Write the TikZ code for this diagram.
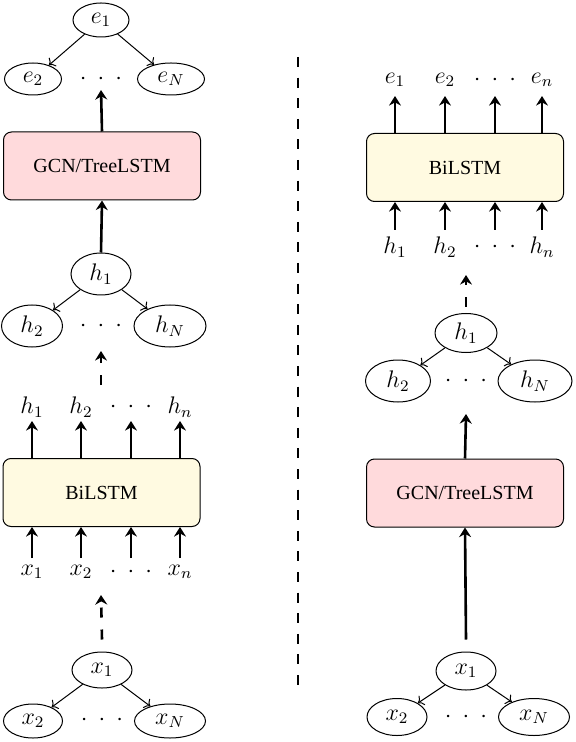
\documentclass[tikz,border=0pt]{standalone}
\usepackage[no-math]{fontspec}
\setmainfont{Liberation Serif}
\usetikzlibrary{shapes.geometric,arrows.meta,calc}
\definecolor{gcnpink}{RGB}{255,218,220}
\definecolor{bilcream}{RGB}{255,250,225}
\newcommand\threedots{$\cdot\hspace{2.9pt}\cdot\hspace{2.9pt}\cdot$}
\begin{document}
\begin{tikzpicture}[x=0.5pt,y=-0.5pt,
  treenode/.style={ellipse,draw,line width=0.5pt,inner sep=0pt,font=\large},
  lbl/.style={inner sep=0pt,font=\large},
  modbox/.style={draw,line width=0.5pt,rounded corners=4pt,minimum width=98.5pt,minimum height=34pt,inner sep=0pt},
  gcnbox/.style={modbox,fill=gcnpink},
  bilbox/.style={modbox,fill=bilcream},
  arr/.style={line width=1.3pt,-{Stealth[length=4.8pt,width=6pt,inset=1.6pt]}},
  darr/.style={arr,dash pattern=on 5pt off 6pt},
  treearr/.style={line width=0.5pt,->},
  sepline/.style={line width=0.6pt,dash pattern=on 5pt off 5.3pt}]
\useasboundingbox (0,0) rectangle (575,742);

% ---------------- left column ----------------
\node[treenode,minimum width=28pt,minimum height=17pt] (e1) at (101,20) {$e_1$};
\node[treenode,minimum width=28.5pt,minimum height=16pt] (e2) at (33,79) {$e_2$};
\node[treenode,minimum width=33.5pt,minimum height=16pt] (eN) at (171,79) {$e_N$};
\node[lbl] (edots) at (101,79) {\threedots};
\draw[treearr] (e1) -- (e2);
\draw[treearr] (e1) -- (eN);

\node[gcnbox] (gcnL) at (102,166) {GCN/TreeLSTM};
\coordinate (edotsTip) at ($(edots.center)+(0,11)$);
\draw[arr] (gcnL.north) -- (edotsTip);

\node[treenode,minimum width=30pt,minimum height=21pt] (h1L) at (101,274) {$h_1$};
\node[treenode,minimum width=30.5pt,minimum height=21pt] (h2L) at (32,326) {$h_2$};
\node[treenode,minimum width=36pt,minimum height=21pt] (hNL) at (170,326) {$h_N$};
\node[lbl] (hdotsL) at (101,326) {\threedots};
\draw[treearr] (h1L) -- (h2L);
\draw[treearr] (h1L) -- (hNL);
\draw[arr] (h1L.north) -- (gcnL.south);

\coordinate (hdotsLTip) at ($(hdotsL.center)+(0,25)$);
\coordinate (hdotsLTail) at (101,385);
\draw[darr] (hdotsLTail) -- (hdotsLTip);

\node[lbl] (hl1) at (32,407) {$h_1$};
\node[lbl] (hl2) at (81,407) {$h_2$};
\node[lbl] (hl3) at (131,407) {\threedots};
\node[lbl] (hl4) at (180,407) {$h_n$};

\node[bilbox] (bilL) at (101.5,492.5) {BiLSTM};
\foreach \n in {hl1,hl2,hl3,hl4}{
  \draw[arr] (bilL.north -| \n) -- ($(\n.center)+(0,14)$);
}

\node[lbl] (xl1) at (32,572) {$x_1$};
\node[lbl] (xl2) at (81,572) {$x_2$};
\node[lbl] (xl3) at (131,572) {\threedots};
\node[lbl] (xl4) at (180,572) {$x_n$};
\foreach \n in {xl1,xl2,xl3,xl4}{
  \draw[arr] ($(\n.center)+(0,-14)$) -- (bilL.south -| \n);
}

\node[treenode,minimum width=30pt,minimum height=18pt] (x1L) at (102,670) {$x_1$};
\node[treenode,minimum width=29.5pt,minimum height=17pt] (x2L) at (33,721) {$x_2$};
\node[treenode,minimum width=35.5pt,minimum height=17pt] (xNL) at (170,721) {$x_N$};
\node[lbl] (xdotsL) at (102,720) {\threedots};
\draw[treearr] (x1L) -- (x2L);
\draw[treearr] (x1L) -- (xNL);
\coordinate (xTailL) at ($(x1L.north)+(0,-12)$);
\coordinate (xTipL) at (101,595);
\draw[darr] (xTailL) -- (xTipL);

% ---------------- separator ----------------
\coordinate (sepTop) at (298,57);
\coordinate (sepBot) at (298,691);
\draw[sepline] (sepTop) -- (sepBot);

% ---------------- right column ----------------
\node[lbl] (el1) at (395,80) {$e_1$};
\node[lbl] (el2) at (445,80) {$e_2$};
\node[lbl] (el3) at (495,80) {\threedots};
\node[lbl] (el4) at (542,80) {$e_n$};

\node[bilbox] (bilR) at (465,167.5) {BiLSTM};
\foreach \n in {el1,el2,el3,el4}{
  \draw[arr] (bilR.north -| \n) -- ($(\n.center)+(0,16)$);
}

\node[lbl] (hr1) at (395,247) {$h_1$};
\node[lbl] (hr2) at (445,247) {$h_2$};
\node[lbl] (hr3) at (495,247) {\threedots};
\node[lbl] (hr4) at (542,247) {$h_n$};
\foreach \n in {hr1,hr2,hr3,hr4}{
  \draw[arr] ($(\n.center)+(0,-17)$) -- (bilR.south -| \n);
}

\node[treenode,minimum width=31pt,minimum height=19.5pt] (h1R) at (466,333) {$h_1$};
\node[treenode,minimum width=32.5pt,minimum height=21pt] (h2R) at (398,381) {$h_2$};
\node[treenode,minimum width=37pt,minimum height=21pt] (hNR) at (535,381) {$h_N$};
\node[lbl] (hdotsR) at (466,381) {\threedots};
\draw[treearr] (h1R) -- (h2R);
\draw[treearr] (h1R) -- (hNR);
\coordinate (hTailR) at ($(h1R.north)+(0,-6)$);
\coordinate (hTipR) at (466,275);
\draw[darr] (hTailR) -- (hTipR);

\node[gcnbox] (gcnR) at (465,493) {GCN/TreeLSTM};
\coordinate (hdotsRTip) at ($(hdotsR.center)+(0,33)$);
\draw[arr] (gcnR.north) -- (hdotsRTip);

\node[treenode,minimum width=30pt,minimum height=19pt] (x1R) at (466,671) {$x_1$};
\node[treenode,minimum width=30pt,minimum height=18.5pt] (x2R) at (397,717) {$x_2$};
\node[treenode,minimum width=35.5pt,minimum height=18.5pt] (xNR) at (534,717) {$x_N$};
\node[lbl] (xdotsR) at (466,717) {\threedots};
\draw[treearr] (x1R) -- (x2R);
\draw[treearr] (x1R) -- (xNR);
\draw[arr] ($(x1R.north)+(0,-12)$) -- (gcnR.south);
\end{tikzpicture}
\end{document}
